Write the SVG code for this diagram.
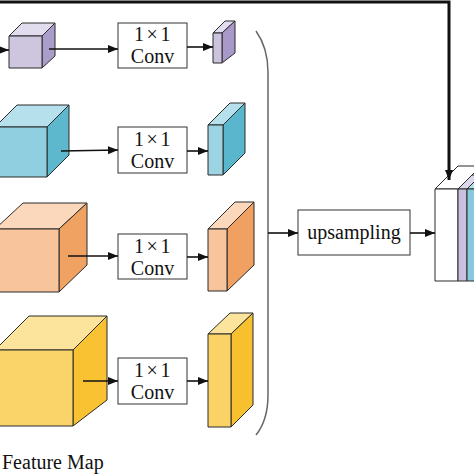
<svg xmlns="http://www.w3.org/2000/svg" width="474" height="474" viewBox="0 0 474 474">
<style>
.e{stroke:#2b2b2b;stroke-width:1;stroke-linejoin:round}
.box{fill:#fff;stroke:#333;stroke-width:1}
.t{font-family:"Liberation Serif","DejaVu Serif",serif;font-size:20px;fill:#111;text-anchor:middle}
.m{letter-spacing:2.5px}
.c{fill:none;stroke:#111;stroke-width:1.6}
</style>
<defs>
<marker id="ah" viewBox="0 0 10 10" refX="10" refY="5" markerWidth="10" markerHeight="10" markerUnits="userSpaceOnUse" orient="auto">
<path d="M0,1 L10,5 L0,9 Z" fill="#111"/>
</marker>
</defs>
<rect width="474" height="474" fill="#fff"/>

<g id="cube1">
<polygon class="e" points="9,36 22,23 55,23 42,36" fill="#e1dcee"/>
<polygon class="e" points="42,36 55,23 55,56 42,68" fill="#ab9dca"/>
<rect class="e" x="9" y="36" width="33" height="32" fill="#cec5df"/>
</g>
<g id="cube2">
<polygon class="e" points="-5,127 17,105 69,105 47,127" fill="#b6e1ec"/>
<polygon class="e" points="47,127 69,105 69,155 47,177" fill="#5db7cd"/>
<rect class="e" x="-5" y="127" width="52" height="50" fill="#90cfe0"/>
</g>
<g id="cube3">
<polygon class="e" points="-5,229 23,203 87,203 59,229" fill="#fbd8bb"/>
<polygon class="e" points="59,229 87,203 87,265 59,292" fill="#f0a263"/>
<rect class="e" x="-5" y="229" width="64" height="63" fill="#f8c49c"/>
</g>
<g id="cube4">
<polygon class="e" points="-5,350 29,316 107,316 73,350" fill="#fde49c"/>
<polygon class="e" points="73,350 107,316 107,400 73,426" fill="#f8c232"/>
<rect class="e" x="-5" y="350" width="78" height="76" fill="#fbd469"/>
</g>

<g id="conv1"><rect class="box" x="118" y="23" width="69" height="45"/><text class="t m" x="153.5" y="41">1×1</text><text class="t" x="152.5" y="63">Conv</text></g>
<g id="conv2"><rect class="box" x="118" y="127" width="69" height="46"/><text class="t m" x="153.5" y="146">1×1</text><text class="t" x="152.5" y="168">Conv</text></g>
<g id="conv3"><rect class="box" x="118" y="234" width="69" height="45"/><text class="t m" x="153.5" y="253">1×1</text><text class="t" x="152.5" y="275">Conv</text></g>
<g id="conv4"><rect class="box" x="118" y="358" width="69" height="46"/><text class="t m" x="153.5" y="377">1×1</text><text class="t" x="152.5" y="399">Conv</text></g>

<g id="slice1">
<polygon class="e" points="213,33 225,21 235,21 222,33" fill="#e1dcee"/>
<polygon class="e" points="222,33 235,21 235,53 222,63" fill="#a999c8"/>
<rect class="e" x="213" y="33" width="9" height="30" fill="#cdc3df"/>
</g>
<g id="slice2">
<polygon class="e" points="208,125 230,103 245,103 223,125" fill="#b6e1ec"/>
<polygon class="e" points="223,125 245,103 245,153 223,175" fill="#5ab6cc"/>
<rect class="e" x="208" y="125" width="15" height="50" fill="#9dd4e3"/>
</g>
<g id="slice3">
<polygon class="e" points="208,229 235,202 254,202 227,229" fill="#fbd8bb"/>
<polygon class="e" points="227,229 254,202 254,265 227,291" fill="#f0a060"/>
<rect class="e" x="208" y="229" width="19" height="62" fill="#f8c49c"/>
</g>
<g id="slice4">
<polygon class="e" points="208,334 230,313 253,313 231,334" fill="#fde49c"/>
<polygon class="e" points="231,334 253,313 253,405 231,427" fill="#f7c02e"/>
<rect class="e" x="208" y="334" width="23" height="93" fill="#fbd266"/>
</g>

<g id="bracket"><path d="M256,31 Q268,48 268,72 L268,395 Q268,420 256,435" fill="none" stroke="#666" stroke-width="1.5"/></g>

<g id="upsampling"><rect class="box" x="298" y="210" width="112" height="45"/><text class="t" x="354" y="239">upsampling</text></g>

<g id="stack">
<polygon class="e" points="435,189 458,166 481,166 458,189" fill="#fff"/>
<rect class="e" x="435" y="189" width="23" height="92" fill="#fff"/>
<polygon class="e" points="458,189 472,175 482,175 467,189" fill="#ddd7ec"/>
<rect class="e" x="458" y="189" width="9" height="92" fill="#cbc1de"/>
<polygon class="e" points="467,189 478,178 488,178 477,189" fill="#b6e1ec"/>
<rect class="e" x="467" y="189" width="10" height="92" fill="#86cadc"/>
</g>

<text class="t" x="2" y="469" style="text-anchor:start">Feature Map</text>

<g id="connectors">
<path class="c" d="M0,50 L9,50" marker-end="url(#ah)"/>
<path class="c" d="M49,49 L118,49" marker-end="url(#ah)"/>
<path class="c" d="M187,47 L213,47" marker-end="url(#ah)"/>
<path class="c" d="M61,151 L118,150" marker-end="url(#ah)"/>
<path class="c" d="M187,151 L208,151" marker-end="url(#ah)"/>
<path class="c" d="M68,256 L118,256" marker-end="url(#ah)"/>
<path class="c" d="M187,257 L208,257" marker-end="url(#ah)"/>
<path class="c" d="M83,381 L118,381" marker-end="url(#ah)"/>
<path class="c" d="M187,381 L208,381" marker-end="url(#ah)"/>
<path class="c" d="M268,233 L298,233" marker-end="url(#ah)"/>
<path class="c" d="M410,233 L435,233" marker-end="url(#ah)"/>
<path d="M0,2 L449,2 L449,180" fill="none" stroke="#111" stroke-width="3" marker-end="url(#ah)"/>
</g>
</svg>
